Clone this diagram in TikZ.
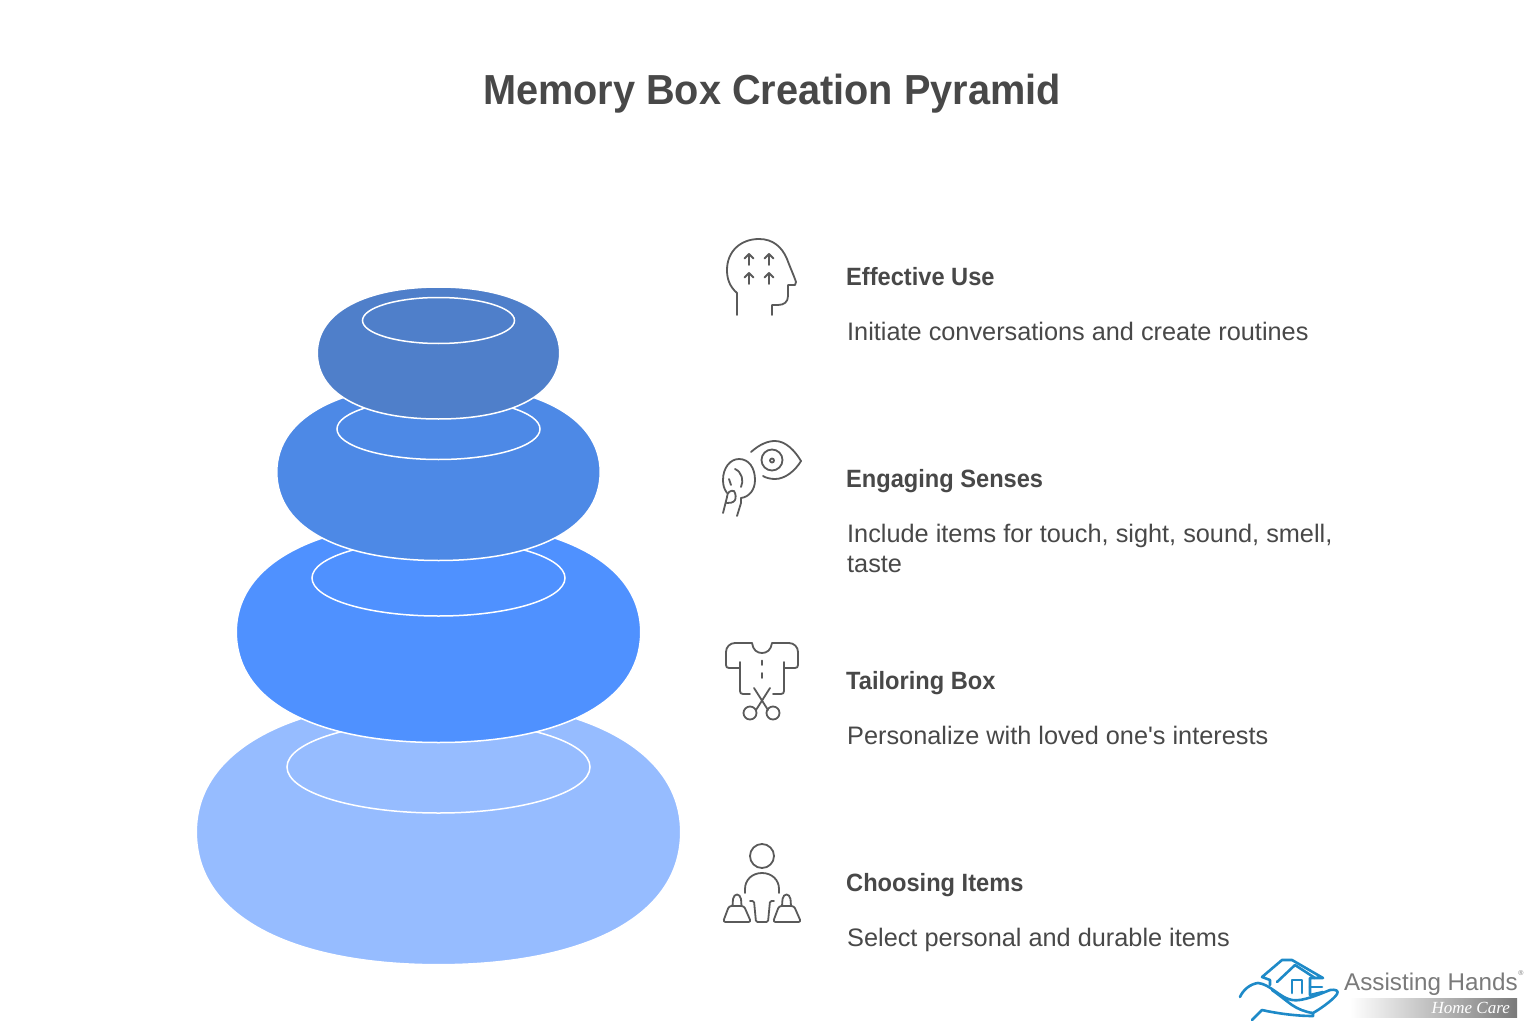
\documentclass[tikz,border=0pt]{standalone}
\usepackage{fontspec}
\setmainfont[BoldFeatures={FakeStretch=0.945}]{Liberation Sans}
\newfontfamily\logoserif{Liberation Serif}
\usetikzlibrary{positioning}
\definecolor{inkgray}{HTML}{484848}
\definecolor{iconline}{HTML}{5A5A5A}
\definecolor{stonea}{HTML}{96BCFF}
\definecolor{stoneb}{HTML}{4F91FF}
\definecolor{stonec}{HTML}{4D89E6}
\definecolor{stoned}{HTML}{4F7FCA}
\definecolor{logoblue}{HTML}{1E8AC8}
\definecolor{logogray}{HTML}{7A7A7A}
\newcommand{\stone}[5]{% centre x, centre y, half width, half height, fill
  \draw[stoneline, fill=#5] (#1-#3,#2)
    .. controls (#1-#3,#2-0.64*#4) and (#1-0.58*#3,#2-#4) .. (#1,#2-#4)
    .. controls (#1+0.58*#3,#2-#4) and (#1+#3,#2-0.64*#4) .. (#1+#3,#2)
    .. controls (#1+#3,#2+0.66*#4) and (#1+0.58*#3,#2+#4) .. (#1,#2+#4)
    .. controls (#1-0.58*#3,#2+#4) and (#1-#3,#2+0.66*#4) .. (#1-#3,#2) -- cycle;}
\begin{document}
\begin{tikzpicture}[
    x=1pt, y=-1pt,
    stoneline/.style={draw=white, line width=1.5pt},
    ring/.style={draw=white, line width=1.5pt},
    icon/.style={draw=iconline, line width=1.8pt, line cap=round, line join=round},
    logoline/.style={draw=logoblue, line width=2.6pt, line cap=round, line join=round},
    heading/.style={anchor=base west, inner sep=0pt, text=inkgray, font=\fontsize{25}{30}\selectfont\bfseries},
    desc/.style={anchor=base west, inner sep=0pt, text=inkgray, align=left, font=\fontsize{25.3}{30.5}\selectfont},
    node distance=55pt
]
   \useasboundingbox (0,0) rectangle (1536,1024);
   \fill[white] (0,0) rectangle (1536,1024);

   \node[text=inkgray, font=\fontsize{42}{50}\selectfont\bfseries] (title) at (772,94) {Memory Box Creation Pyramid};

   % Stones, bottom first
   \stone{438.5}{832}{242.2}{132.7}{stonea}
   \draw[ring] (438.5,767) ellipse [x radius=151.5, y radius=46];
   \stone{438.5}{632}{202.2}{110.5}{stoneb}
   \draw[ring] (438.5,578) ellipse [x radius=126.5, y radius=38];
   \stone{438.5}{472}{161.7}{88.5}{stonec}
   \draw[ring] (438.5,429) ellipse [x radius=101.5, y radius=30.5];
   \stone{438.5}{353}{121.2}{66}{stoned}
   \draw[ring] (438.5,320.5) ellipse [x radius=76, y radius=23];

   % Labels
   \node[heading] (use) at (846,285) {Effective Use};
   \node[desc, below=55pt of use.base west, anchor=base west, xshift=1pt] (usetext) {Initiate conversations and create routines};
   \node[heading] (senses) at (846,487) {Engaging Senses};
   \node[desc, below=85.5pt of senses.base west, anchor=base west, xshift=1pt] (sensestext) {Include items for touch, sight, sound, smell,\\taste};
   \node[heading] (tailor) at (846,689) {Tailoring Box};
   \node[desc, below=55pt of tailor.base west, anchor=base west, xshift=1pt] (tailortext) {Personalize with loved one\textquotesingle s interests};
   \node[heading] (items) at (846,891) {Choosing Items};
   \node[desc, below=55pt of items.base west, anchor=base west, xshift=1pt] (itemstext) {Select personal and durable items};

   % Head icon
   \draw[icon] (737,315) -- (737,293) .. controls (729,286) and (727,278) .. (727,270)
     .. controls (727,251) and (741,239) .. (759,239)
     .. controls (773,239) and (782,247) .. (787,259)
     .. controls (790,267) and (794,276) .. (796,282) -- (795,285) -- (788,285) -- (788,296)
     .. controls (788,302) and (784,305) .. (778,305) -- (772,305) -- (772,315);
   \foreach \ax/\ay in {749/254, 769/254, 749/273, 769/273} {
     \draw[icon] (\ax,\ay+11) -- (\ax,\ay);
     \draw[icon] (\ax-4.5,\ay+4.5) -- (\ax,\ay) -- (\ax+4.5,\ay+4.5);
   }

   % Eye and ear icon
   \draw[icon] (751,452) .. controls (760,444) and (768,441) .. (775,441)
     .. controls (786,441) and (795,451) .. (801,461)
     .. controls (795,471) and (785,479) .. (775,479)
     .. controls (771,479) and (766,478) .. (763,476);
   \draw[icon] (772,460) circle [radius=10.5];
   \draw[icon] (772,460.5) circle [radius=2];
   \draw[icon] (727,493) .. controls (724,489) and (723,485) .. (723,480)
     .. controls (723,468) and (730,459) .. (739,459)
     .. controls (749,459) and (755,468) .. (755,480)
     .. controls (755,490) and (749,497) .. (741,498);
   \draw[icon] (723,513) -- (727,497) .. controls (727,492) and (731,490) .. (734,491)
     .. controls (736,494) and (736,498) .. (735,500) .. controls (733,503) and (730,503) .. (727,503);
   \draw[icon] (741,498) -- (741,503) -- (737,516);
   \draw[icon] (735,469) .. controls (742,472) and (744,481) .. (741,487);
   \draw[icon] (729,479) -- (731,485);

   % Shirt and scissors icon
   \draw[icon] (752,643) -- (735,643) .. controls (730,643) and (726,647) .. (726,652)
     -- (726,665) .. controls (726,667) and (727,668) .. (729,668) -- (740,668);
   \draw[icon] (752,643) .. controls (753,650) and (757,653) .. (762,653)
     .. controls (767,653) and (771,650) .. (772,643) -- (789,643)
     .. controls (794,643) and (798,647) .. (798,652) -- (798,665)
     .. controls (798,667) and (797,668) .. (795,668) -- (784,668);
   \draw[icon] (740,662) -- (740,691) .. controls (740,693) and (741,694) .. (743,694) -- (750,694);
   \draw[icon] (784,662) -- (784,691) .. controls (784,693) and (783,694) .. (781,694) -- (773,694);
   \draw[icon] (762,660.5) -- (762,665);
   \draw[icon] (762,673) -- (762,678);
   \draw[icon] (754,688) -- (768,710);
   \draw[icon] (770,688) -- (756,710);
   \draw[icon] (750,713) circle [radius=6.5];
   \draw[icon] (773,713) circle [radius=6.5];

   % Person and bags icon
   \draw[icon] (762,856) circle [radius=12];
   \draw[icon] (745,893) -- (745,889) .. controls (745,880) and (752,873) .. (762,873)
     .. controls (772,873) and (779,880) .. (779,889) -- (779,893);
   \draw[icon, rounded corners=1.5pt] (750,901) -- (754,901) -- (756,922) -- (768,922) -- (770,901) -- (774,901);
   \draw[icon, rounded corners=2.5pt] (729,906) -- (744,906) -- (751,922) -- (723,922) -- cycle;
   \draw[icon] (732.5,906) -- (733,899) .. controls (734,893) and (740,893) .. (741,899) -- (741.5,906);
   \draw[icon, rounded corners=2.5pt] (779,906) -- (794,906) -- (801,922) -- (773,922) -- cycle;
   \draw[icon] (782,906) -- (782.5,899) .. controls (783.5,893) and (789.5,893) .. (790.5,899) -- (791,906);

   % Logo
   \draw[logoline] (1270,985) -- (1270,980) -- (1262,977) -- (1282,960) -- (1292,960) -- (1323,978) -- (1310,978) -- (1310,995);
   \draw[logoline] (1277,982) -- (1295,965) -- (1315,978);
   \draw[logoline] (1292,993) -- (1292,980) -- (1302,980) -- (1302,993);
   \draw[logoline] (1310,987) -- (1322,987);
   \draw[logoline] (1310,995) -- (1323,992);
   \draw[logoline] (1240,997) .. controls (1243,990) and (1250,984) .. (1258,983)
     .. controls (1270,984) and (1280,998) .. (1292,1000)
     .. controls (1302,1002) and (1320,994) .. (1330,990)
     .. controls (1336,989) and (1339,991) .. (1337,994)
     .. controls (1335,998) and (1322,1008) .. (1313,1013)
     .. controls (1305,1012) and (1298,1009) .. (1292,1005)
     .. controls (1285,1000) and (1278,994) .. (1272,990);
   \draw[logoline] (1252,1020) -- (1262,1010) .. controls (1275,1013) and (1295,1016) .. (1313,1016) -- (1313,1013);
   \shade[left color=white, right color=logogray] (1350,998) rectangle (1517,1017);
   \node[text=logogray, inner sep=0pt, anchor=base west, font=\fontsize{24.2}{28}\selectfont] (logoname) at (1344,990) {Assisting Hands};
   \node[text=logogray, inner sep=0pt, font=\fontsize{7}{8}\selectfont] (logomark) at (1521,973) {\textregistered};
   \node[text=white, inner sep=0pt, anchor=base east, font=\fontsize{17}{20}\logoserif\itshape] (logotag) at (1510,1013) {Home Care};
\end{tikzpicture}
\end{document}
